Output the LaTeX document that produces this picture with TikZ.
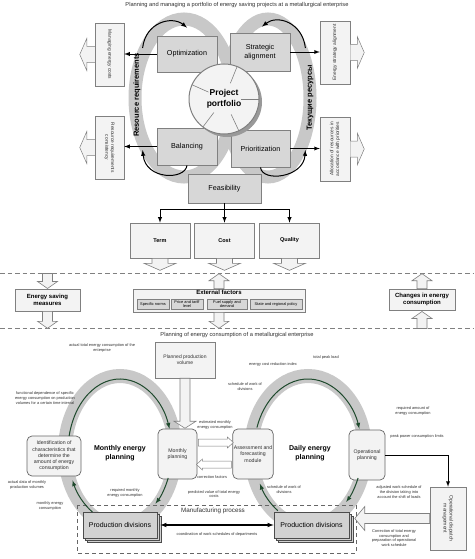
\documentclass[tikz,border=0pt]{standalone}
\usepackage{fontspec}
\setmainfont{Liberation Sans}
\usepackage{tikz}
\usetikzlibrary{calc}
\usetikzlibrary{shapes}
\usetikzlibrary{arrows}
\usetikzlibrary{shadows}
\usetikzlibrary{positioning}

\definecolor{boxgray}{HTML}{D7D7D7}
\definecolor{edgegray}{HTML}{808080}
\definecolor{lightbox}{HTML}{F3F3F3}
\definecolor{bandgray}{HTML}{C8C8C8}
\definecolor{darkgreen}{HTML}{1F4A2D}
\definecolor{textgray}{HTML}{303030}

\tikzset{
  topbox/.style={draw=edgegray, fill=boxgray, line width=0.8pt, align=center,
    font=\fontsize{7.2}{8.6}\selectfont, inner sep=1pt},
  outbox/.style={draw=edgegray, fill=lightbox, line width=0.5pt, align=center,
    font=\fontsize{4.8}{5.8}\selectfont, text=textgray, inner sep=1pt},
  outarrow/.style={draw=edgegray, fill=lightbox, line width=0.5pt},
  band/.style={draw=bandgray, line width=13pt},
  bandlabel/.style={font=\bfseries\fontsize{7.5}{9}\selectfont},
  curvearrow/.style={-latex, line width=1pt},
  flowarrow/.style={-latex, line width=0.9pt},
  critbox/.style={draw=edgegray, fill=lightbox, line width=0.6pt, align=center,
    font=\bfseries\fontsize{5.5}{6.6}\selectfont},
  fatarrow/.style={draw=edgegray, fill=lightbox, line width=0.6pt},
  midbox/.style={draw=edgegray, fill=lightbox, line width=0.6pt, align=center,
    font=\bfseries\fontsize{6}{7.2}\selectfont, inner sep=1pt},
  factorbox/.style={draw=edgegray, fill=boxgray, line width=0.4pt, align=center,
    font=\fontsize{3.9}{4.6}\selectfont, inner sep=0.5pt},
  sepline/.style={draw=gray, line width=0.9pt, dash pattern=on 4.5pt off 3pt},
  heading/.style={font=\fontsize{5.7}{6.8}\selectfont, text=textgray},
  planbox/.style={draw=black!60, fill=lightbox, rounded corners=5pt, line width=0.7pt,
    align=center, font=\fontsize{5.2}{6.3}\selectfont, text=textgray, inner sep=1pt},
  prodbox/.style={draw=black!70, fill=gray!35, line width=0.7pt,
    font=\fontsize{7}{8.4}\selectfont,
    double copy shadow={shadow xshift=2pt, shadow yshift=-2pt, draw=black!70, fill=gray!35}},
  greenarrow/.style={-latex, draw=darkgreen, line width=1pt},
  note/.style={font=\fontsize{3.9}{4.8}\selectfont, align=center, text=textgray},
  looptitle/.style={font=\bfseries\fontsize{7}{8.8}\selectfont, align=center},
  hollowarrow/.style={draw=gray, fill=white, line width=0.5pt},
  mfgframe/.style={draw=gray!80!black, line width=0.8pt, dash pattern=on 4pt off 3pt}
}

\begin{document}
\begin{tikzpicture}[x=1pt,y=-1pt]
  \useasboundingbox[fill=white] (0,0) rectangle (474,559);

  \node[heading] (title) at (237,5.5)
    {Planning and managing a portfolio of energy saving projects at a metallurgical enterprise};

  \draw[band] (184,98) ellipse [x radius=49, y radius=79];
  \draw[band] (268,98) ellipse [x radius=42, y radius=79];
  \node[bandlabel, rotate=90] (resreq) at (137,95) {Resource requirements};
  \node[bandlabel, rotate=90] (curres) at (310,98) {Текущие ресурсы};

  \node[topbox, minimum width=60, minimum height=36] (optim) at (187,54) {Optimization};
  \node[topbox, minimum width=60, minimum height=38] (strat) at (260,52) {Strategic\\alignment};
  \node[topbox, minimum width=60, minimum height=37] (balan) at (187,146.5) {Balancing};
  \node[topbox, minimum width=59, minimum height=37] (prior) at (260.5,148.5) {Prioritization};
  \node[topbox, minimum width=73, minimum height=29] (feas) at (224.5,188.5) {Feasibility};

  \node[circle, draw=edgegray, fill=lightbox, line width=1pt, minimum size=70,
    drop shadow={shadow xshift=3pt, shadow yshift=-3pt, fill=gray!80, opacity=1}] (pie) at (224,99) {};
  \foreach \ang in {-68,0,65,127,204} {%
    \draw[edgegray, line width=0.6pt] ($(pie)+(\ang:17)$) -- ($(pie)+(\ang:35)$);
  }
  \node[font=\bfseries\fontsize{8.5}{10.5}\selectfont, align=center] (pielabel) at (pie) {Project\\portfolio};

  \node[outbox, rotate=-90, minimum width=63, minimum height=29] (costs) at (109.5,54.5)
    {Managing energy costs};
  \node[outbox, rotate=-90, minimum width=63, minimum height=29] (consist) at (109.5,147.5)
    {Resource requirements\\consistency};
  \node[outbox, rotate=90, minimum width=63, minimum height=30] (stratout) at (335,52.5)
    {Energy strategy alignment};
  \node[outbox, rotate=90, minimum width=64, minimum height=30] (alloc) at (335,149)
    {Allocation of resources in\\accordance with priorities};
  \foreach \b in {costs,consist} {%
    \draw[outarrow] ($(\b.south)+(0,-8)$) -- ++(-8,0) -- ++(0,-8) -- ++(-7,16) -- ++(7,16)
      -- ++(0,-8) -- ++(8,0);
  }
  \foreach \b in {stratout,alloc} {%
    \draw[outarrow] ($(\b.south)+(0,-8)$) -- ++(7,0) -- ++(0,-8) -- ++(7,16) -- ++(-7,16)
      -- ++(0,-8) -- ++(-7,0);
  }

  \draw[flowarrow] (optim.west) -- (optim.west -| costs.north);
  \draw[flowarrow] (balan.west) -- (balan.west -| consist.north);
  \draw[flowarrow] (strat.east) -- (strat.east -| stratout.north);
  \draw[flowarrow] (prior.east) -- (prior.east -| alloc.north);

  \draw[curvearrow] ($(optim.west)+(-14,-6)$) .. controls +(3,-26) and +(-15,-12) .. ($(optim.north)+(0,-8)$);
  \draw[curvearrow] ($(strat.east)+(15,-4)$) .. controls +(-3,-26) and +(15,-12) .. ($(strat.north)+(2,-6)$);
  \draw[curvearrow] (balan.south) .. controls +(-2,15) and +(3,30) .. ($(balan.west)+(-14,3.5)$);
  \draw[curvearrow] (prior.south) .. controls +(1.5,15) and +(-2,28) .. ($(prior.east)+(15,1.5)$);

  \coordinate (split) at ($(feas.south)+(0,6)$);
  \foreach \n/\x/\txt in {term/160/Term, cost/224.5/Cost, quality/289.5/Quality} {%
    \node[critbox, minimum width=60, minimum height=35] (\n) at (\x,240.5) {\txt};
  }
  \draw[flowarrow, -] (feas.south) -- (split);
  \draw[flowarrow, -] (split -| term.north) -- (split -| quality.north);
  \foreach \n in {term,cost,quality} {%
    \draw[flowarrow] (split -| \n.north) -- (\n.north);
  }

  \coordinate (sepA) at (0,273.5);
  \coordinate (sepB) at (0,328.5);
  \draw[sepline] (sepA) -- ++(474,0);
  \draw[sepline] (sepB) -- ++(474,0);

  \node[midbox, minimum width=65, minimum height=22] (saving) at (47.5,300) {Energy saving\\measures};
  \node[midbox, minimum width=172, minimum height=23] (ext) at (219,300.5) {};
  \node[midbox, draw=none, fill=none, below=0.5pt of ext.north] (exttitle) {External factors};
  \foreach \n/\x/\w/\txt in {norms/153/32/{Specific norms}, tariff/187/32/{Price and tariff\\level},
      fuel/227/40/{Fuel supply and\\demand}, policy/276/52/{State and regional policy}} {%
    \node[factorbox, minimum width=\w, minimum height=10] (\n) at (\x,304) {\txt};
  }
  \node[midbox, minimum width=66, minimum height=21] (changes) at (422,299.5) {Changes in energy\\consumption};

  % bottom part
  \node[heading] (subtitle) at (237,335) {Planning of energy consumption of a metallurgical enterprise};
  \coordinate (lloop) at (120,451);
  \coordinate (rloop) at (308,451);
  \draw[band, line width=14pt] (lloop) ellipse [x radius=55, y radius=75];
  \draw[band, line width=14pt] (rloop) ellipse [x radius=57, y radius=75];

  \node[outbox, minimum width=60, minimum height=36, font=\fontsize{5}{6}\selectfont] (plannedvol)
    at (185,360) {Planned production\\volume};
  \node[planbox, minimum width=54, minimum height=40] (ident) at (54,456)
    {Identification of\\characteristics that\\determine the\\amount of energy\\consumption};
  \node[planbox, minimum width=39, minimum height=50] (mplan) at (177.5,454) {Monthly\\planning};
  \node[planbox, minimum width=40, minimum height=50] (assess) at (253,454) {Assessment and\\forecasting\\module};
  \node[planbox, minimum width=36, minimum height=50] (oplan) at (367,455) {Operational\\planning};
  \node[looptitle] (mtitle) at (120,453) {Monthly energy\\planning};
  \node[looptitle] (dtitle) at (310,453) {Daily energy\\planning};

  \foreach \from/\len/\dir/\shaft/\head in {term.south/12/1/8/16, cost.south/12/1/8/16,
      quality.south/12/1/8/16, saving.north |- sepA/15/1/5/10, saving.south/17/1/5/10,
      ext.north/15/-1/5/10, ext.south/16/1/5/10, changes.north/15/-1/5/10,
      changes.south |- sepB/17/-1/5/10, plannedvol.south/50/1/5/11} {%
    \draw[fatarrow] ($(\from)+(-\shaft,0)$) -- ++(0,{(\len-7)*\dir}) -- ++({\shaft-\head},0)
      -- ++(\head,{7*\dir}) -- ++(\head,{-7*\dir}) -- ++({\shaft-\head},0)
      -- ++(0,{-(\len-7)*\dir}) -- cycle;
  }

  \draw[hollowarrow] ($(mplan.east)+(1,-15)$) -- ++(29,0) -- ++(0,-2) -- ++(6,5.5) -- ++(-6,5.5)
    -- ++(0,-2) -- ++(-29,0) -- cycle;
  \draw[hollowarrow] ($(assess.west)+(-1,7)$) -- ++(-29,0) -- ++(0,-2) -- ++(-6,5.5) -- ++(6,5.5)
    -- ++(0,-2) -- ++(29,0) -- cycle;

  \draw[mfgframe] (77,505) rectangle (356,553);
  \node[font=\fontsize{6.3}{7.5}\selectfont, text=textgray] (mfglabel) at (213,511) {Manufacturing process};
  \node[prodbox, minimum width=74, minimum height=26] (prodl) at (120,525) {Production divisions};
  \node[prodbox, minimum width=75, minimum height=26] (prodr) at (311.5,525) {Production divisions};
  \draw[latex-latex, line width=1.1pt] ($(prodl.east)+(3,0)$) -- (prodr.west);

  \node[outbox, rotate=-90, minimum width=63, minimum height=36, font=\fontsize{5}{6}\selectfont]
    (dispatch) at (448,518.5) {Operational dispatch\\management};
  \draw[flowarrow] (oplan.east) -| (dispatch.west);
  \draw[fatarrow] ($(dispatch.south)+(0,-5)$) -- ++(-65,0) -- ++(0,-7) -- ++(-10,12) -- ++(10,12)
    -- ++(0,-7) -- ++(65,0) -- cycle;

  \draw[greenarrow] ($(lloop)+(-168:52 and 72)$) arc [start angle=-168, end angle=-18, x radius=52, y radius=72];
  \draw[greenarrow] ($(lloop)+(22:52 and 72)$) arc [start angle=22, end angle=47, x radius=52, y radius=72];
  \draw[greenarrow] ($(lloop)+(122:52 and 72)$) arc [start angle=122, end angle=156, x radius=52, y radius=72];
  \draw[greenarrow] ($(rloop)+(-161:54 and 72)$) arc [start angle=-161, end angle=-18, x radius=54, y radius=72];
  \draw[greenarrow] ($(rloop)+(22:54 and 72)$) arc [start angle=22, end angle=45, x radius=54, y radius=72];
  \draw[greenarrow] ($(rloop)+(124:54 and 72)$) arc [start angle=124, end angle=153, x radius=54, y radius=72];

  \foreach \n/\x/\y/\txt in {ltotal/102/348/{actual total energy consumption of the\\enterprise},
      lfunc/45/398/{functional dependence of specific\\energy consumption on production\\volumes for a certain time interval},
      lestim/215/425/{estimated monthly\\energy consumption},
      lcost/273/364/{energy cost reduction index},
      lpeak/326/357/{total peak load},
      lsched/245/387/{schedule of work of\\divisions},
      lreq/413/411/{required amount of\\energy consumption},
      llimits/417/436/{peak power consumption limits},
      ladj/399/492/{adjusted work schedule of\\the division taking into\\account the shift of loads},
      lsched2/284/490/{schedule of work of\\divisions},
      lactual/27/485/{actual data of monthly\\production volumes},
      lmonthly/50/506/{monthly energy\\consumption},
      lreqm/125/493/{required monthly\\energy consumption},
      lpred/214/494/{predicted value of total energy\\costs},
      lcorr/212/477/{correction factors},
      lcoord/217/534/{coordination of work schedules of departments},
      lcorrtot/394/538/{Correction of total energy\\consumption and\\preparation of operational\\work schedule}} {%
    \node[note] (\n) at (\x,\y) {\txt};
  }
\end{tikzpicture}
\end{document}
